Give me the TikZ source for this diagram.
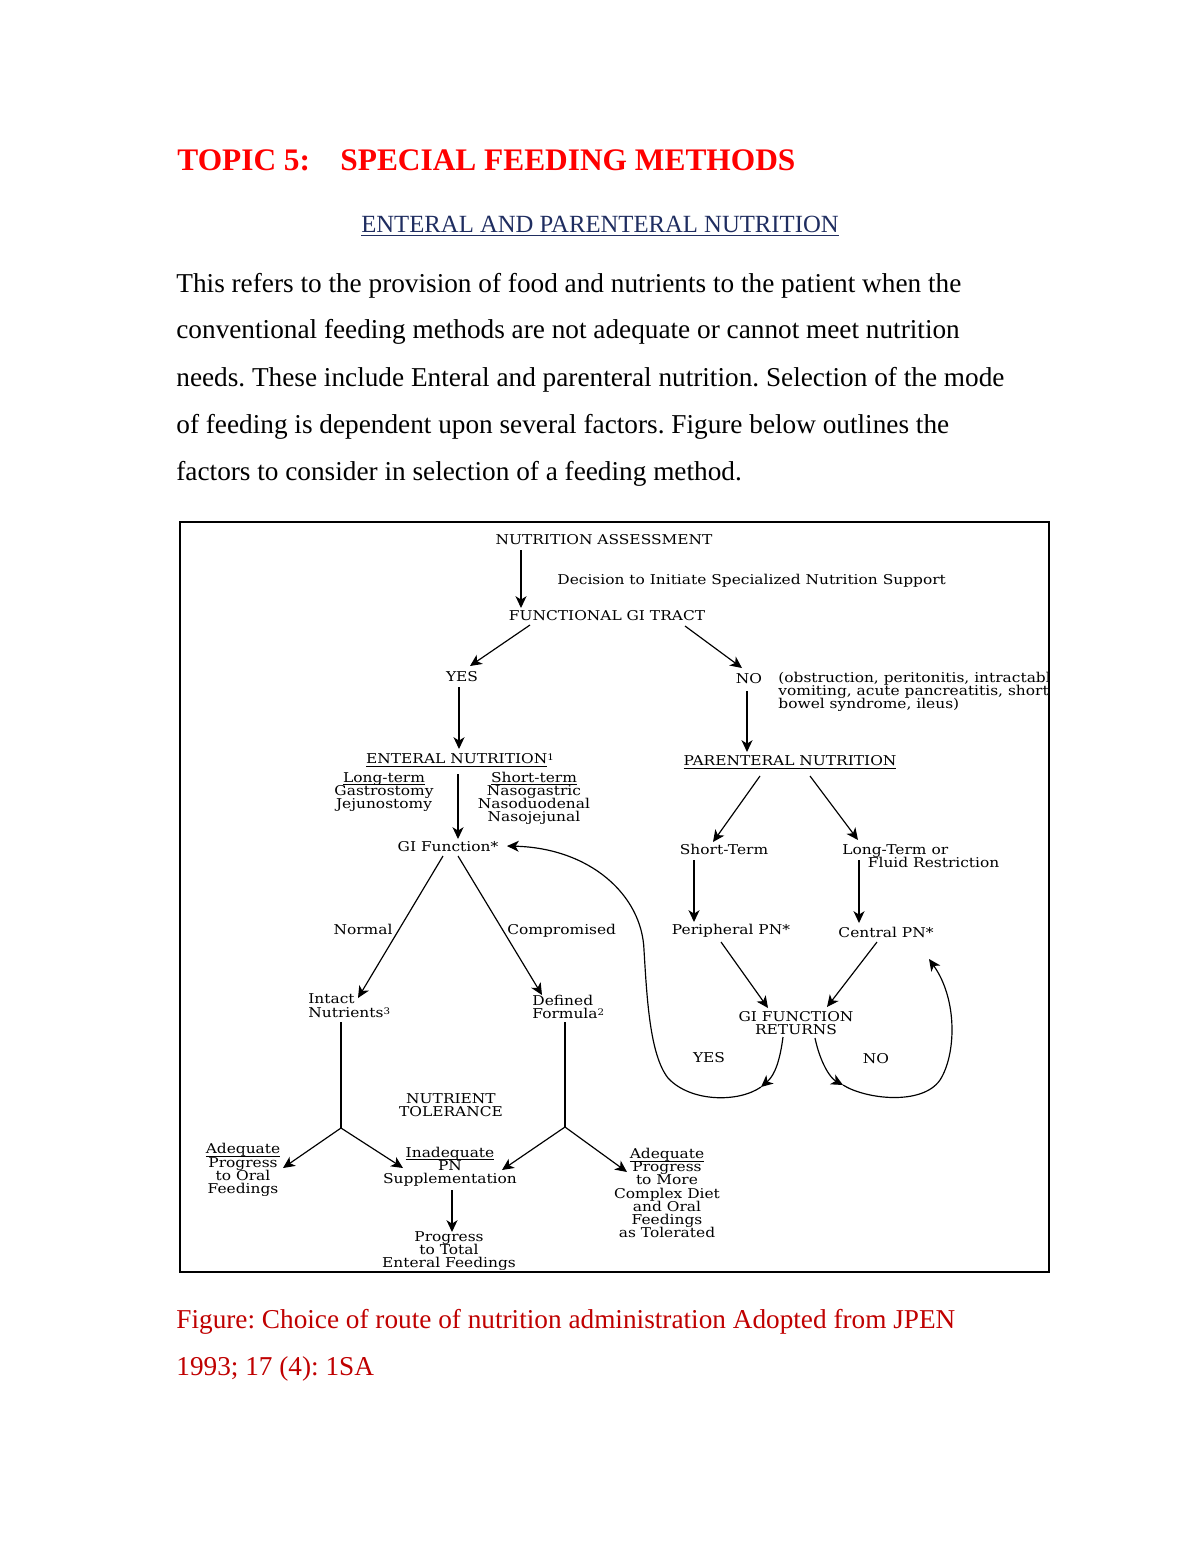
\documentclass[tikz,border=0pt]{standalone}
\usepackage{fontspec}
\setmainfont{Liberation Serif}
\newfontfamily\figfont[FakeStretch=1.14]{DejaVu Serif}
\usetikzlibrary{arrows.meta,calc}
\definecolor{titlered}{RGB}{255,0,0}
\definecolor{navyblue}{RGB}{31,45,96}
\definecolor{caprd}{RGB}{192,0,0}
\newcommand\figtext{\figfont\fontsize{6.9}{6.7}\selectfont\lineskiplimit=-10pt\lineskip=0pt}
\newcommand\ulx[1]{\setbox0\hbox{#1}\rlap{\rule[-1.3pt]{\wd0}{0.35pt}}\box0}
\newcommand\supx[1]{\raisebox{1.8pt}{\fontsize{4.6}{5}\selectfont #1}}
\frenchspacing
\begin{document}
\begin{tikzpicture}[x=0.51pt,y=-0.51pt,
  ft/.style={font=\figtext,inner sep=0pt,align=center},
  body/.style={font=\fontsize{13.9}{16}\selectfont,inner sep=0pt,anchor=west},
  arr/.style={-{Stealth[length=6pt,width=5.6pt,inset=1.7pt]},line width=0.6pt},
  ln/.style={line width=0.6pt}]
\useasboundingbox (0,0) rectangle (1200,1553);
\fill[white] (0,0) rectangle (1200,1553);
% header
\node[inner sep=0pt,anchor=west,text=titlered,font=\bfseries\fontsize{16}{18}\selectfont] (t1) at (177,160) {TOPIC 5:};
\node[inner sep=0pt,anchor=west,text=titlered,font=\bfseries\fontsize{16}{18}\selectfont] (t2) at (340,160) {SPECIAL FEEDING METHODS};
\node[inner sep=0pt,text=navyblue,font=\fontsize{12.6}{14}\selectfont] (sub) at (600,226) {\underline{ENTERAL AND PARENTERAL NUTRITION}};
\node[body] (b1) at (176,286) {This refers to the provision of food and nutrients to the patient when the};
\node[body] (b2) at (176,332) {conventional feeding methods are not adequate or cannot meet nutrition};
\node[body] (b3) at (176,380) {needs. These include Enteral and parenteral nutrition. Selection of the mode};
\node[body] (b4) at (176,427) {of feeding is dependent upon several factors. Figure below outlines the};
\node[body] (b5) at (176,474) {factors to consider in selection of a feeding method.};
\node[body,text=caprd] (c1) at (176,1322) {Figure: Choice of route of nutrition administration Adopted from JPEN};
\node[body,text=caprd] (c2) at (176,1369) {1993; 17 (4): 1SA};
% frame
\draw[line width=1pt] (180,522) rectangle (1049,1272);
% figure nodes
\node[ft] (na) at (604,540) {NUTRITION ASSESSMENT};
\node[ft,anchor=west] (dec) at (557,581) {Decision to Initiate Specialized Nutrition Support};
\node[ft] (fgi) at (607,616) {FUNCTIONAL GI TRACT};
\node[ft] (yes) at (462,677) {YES};
\node[ft] (no) at (749,679) {NO};
\begin{scope}
\clip (180,522) rectangle (1047,1272);
\node[ft,anchor=west,align=left] (obs) at (778,692) {(obstruction, peritonitis, intractable\\vomiting, acute pancreatitis, short\\bowel syndrome, ileus)};
\end{scope}
\node[ft] (en) at (460,760) {\ulx{ENTERAL NUTRITION}\supx{1}};
\node[ft] (pn) at (790,762) {\ulx{PARENTERAL NUTRITION}};
\node[ft] (lt) at (384,792) {\ulx{Long-term}\\Gastrostomy\\Jejunostomy};
\node[ft] (st) at (534,798.5) {\ulx{Short-term}\\Nasogastric\\Nasoduodenal\\Nasojejunal};
\node[ft] (gif) at (448,847) {GI Function*};
\node[ft] (normal) at (363,929) {Normal};
\node[ft,anchor=west] (comp) at (507,931) {Compromised};
\node[ft,anchor=west,align=left] (intact) at (308,1006) {Intact\\[0.3pt]Nutrients\supx{3}};
\node[ft,anchor=west,align=left] (defined) at (532,1007) {Defined\\[0.3pt]Formula\supx{2}};
\node[ft] (nt) at (451,1105) {NUTRIENT\\TOLERANCE};
\node[ft] (adq1) at (243,1170) {\ulx{Adequate}\\Progress\\to Oral\\Feedings};
\node[ft] (inad) at (450,1167) {\ulx{Inadequate}\\PN\\Supplementation};
\node[ft] (prog) at (449,1251) {Progress\\to Total\\Enteral Feedings};
\node[ft] (adq2) at (667,1193) {\ulx{Adequate}\\Progress\\to More\\Complex Diet\\and Oral\\Feedings\\as Tolerated};
\node[ft] (sterm) at (724,849) {Short-Term};
\node[ft,anchor=west,align=left] (lterm) at (842,856) {Long-Term or\\\hspace*{13pt}Fluid Restriction};
\node[ft] (ppn) at (731,931) {Peripheral PN*};
\node[ft] (cpn) at (886,932) {Central PN*};
\node[ft] (gir) at (796,1023) {GI FUNCTION\\RETURNS};
\node[ft] (yesl) at (709,1058) {YES};
\node[ft] (nol) at (876,1059) {NO};
% branch points
\coordinate (bp1) at (341,1128);
\coordinate (bp2) at (565,1127);
\coordinate (ym) at (761,1087);
\coordinate (nm) at (843,1085);
% arrows
\draw[arr] ($(na)+(-83,10)$) -- ($(fgi)+(-86,-8)$);
\draw[arr] ($(fgi)+(-77,9)$) -- ($(yes)+(8,-11)$);
\draw[arr] ($(fgi)+(78,10)$) -- ($(no)+(-7,-11)$);
\draw[arr] ($(yes)+(-3,10)$) -- ($(en)+(-1,-11)$);
\draw[arr] ($(no)+(-2,12)$) -- ($(pn)+(-43,-10)$);
\draw[arr] ($(en)+(-2,14)$) -- ($(gif)+(10,-8)$);
\draw[arr] ($(pn)+(-30,14)$) -- ($(sterm)+(-11,-7)$);
\draw[arr] ($(pn)+(20,14)$) -- ($(lterm.west)+(16,-16)$);
\draw[arr] ($(sterm)+(-30,11)$) -- ($(ppn)+(-37,-9)$);
\draw[arr] ($(lterm.west)+(17,4)$) -- ($(cpn)+(-27,-9)$);
\draw[arr] ($(ppn)+(-10,11)$) -- ($(gir)+(-28,-15)$);
\draw[arr] ($(cpn)+(-9,10)$) -- ($(gir)+(31,-16)$);
\draw[arr] ($(gif)+(-5,9)$) -- ($(intact.west)+(50,-8)$);
\draw[arr] ($(gif)+(10,9)$) -- ($(defined.west)+(10,-12)$);
\draw[ln] ($(intact.west)+(33,16)$) -- (bp1);
\draw[arr] (bp1) -- ($(adq1)+(40,-2)$);
\draw[arr] (bp1) -- ($(inad)+(-47,1)$);
\draw[ln] ($(defined.west)+(33,15)$) -- (bp2);
\draw[arr] (bp2) -- ($(inad)+(52,3)$);
\draw[arr] (bp2) -- ($(adq2)+(-40,-21)$);
\draw[arr] ($(inad)+(2,23)$) -- ($(prog)+(3,-19)$);
% loops
\draw[arr] ($(gir)+(-13,14)$) .. controls (780,1060) and (775,1075) .. (ym);
\draw[arr] (ym) .. controls (738,1103) and (690,1102) .. (668,1078)
  .. controls (650,1055) and (647,1000) .. (644,950)
  .. controls (642,895) and (590,848) .. ($(gif)+(59,-1)$);
\draw[arr] ($(gir)+(19,15)$) .. controls (820,1062) and (830,1078) .. (nm);
\draw[arr] (nm) .. controls (865,1099) and (922,1106) .. (940,1080)
  .. controls (956,1055) and (958,1000) .. ($(cpn)+(43,27)$);
\end{tikzpicture}
\end{document}
